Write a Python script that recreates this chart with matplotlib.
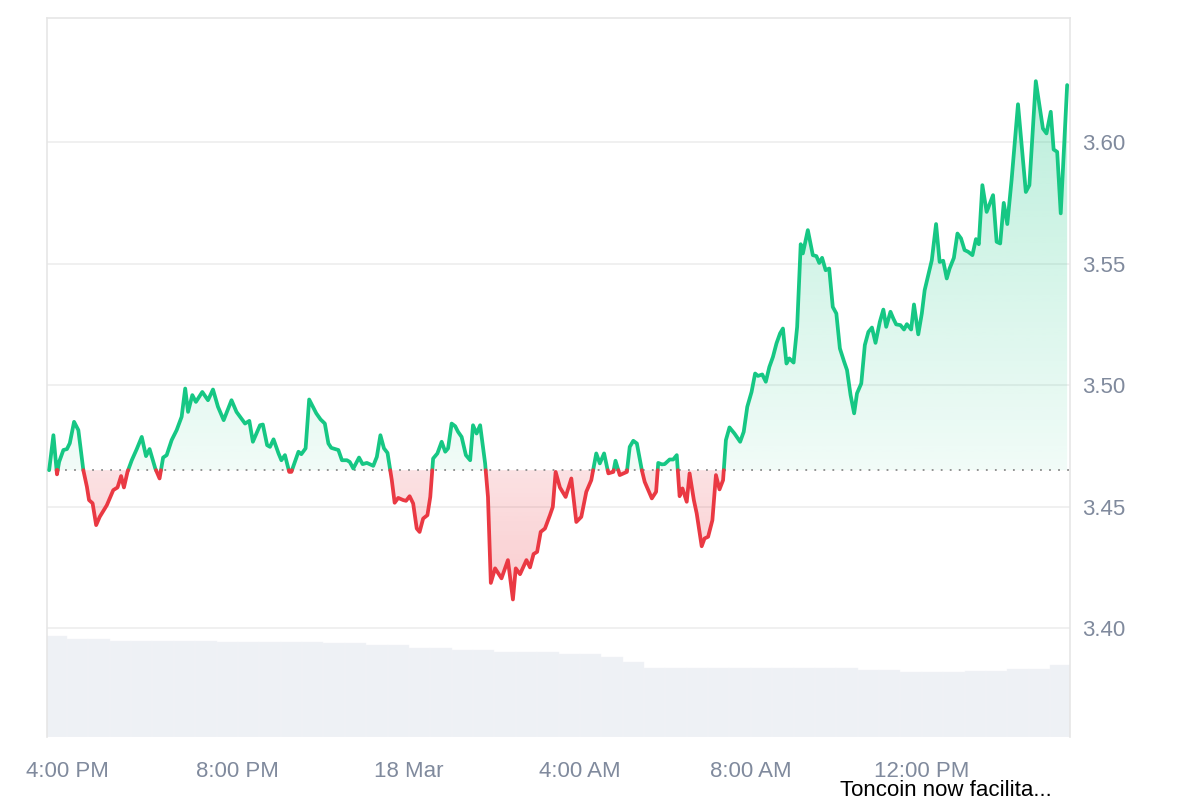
import matplotlib
matplotlib.use("Agg")
import matplotlib.pyplot as plt
import numpy as np
from matplotlib.path import Path

# minutes after 4:00 PM (17 Mar) and price in USD
minutes = [-25, -19, -14, -11, -5, 0, 4, 10, 16, 23,
           28, 31, 36, 41, 46, 56, 65, 71, 76, 80,
           85, 91, 98, 105, 111, 116, 124, 130, 135, 140,
           147, 154, 161, 166, 170, 176, 181, 190, 198, 205,
           212, 220, 231, 238, 250, 256, 261, 271, 275, 281,
           285, 290, 297, 301, 306, 312, 315, 325, 329, 335,
           340, 350, 356, 362, 367, 371, 381, 386, 393, 397,
           402, 410, 415, 421, 430, 435, 440, 445, 450,
           456, 460, 465, 472, 476, 481, 486, 491, 495, 500,
           506, 510, 514, 520, 526, 531, 535, 540, 545, 549,
           554, 560, 566, 570, 575, 580, 587, 591, 595, 601,
           610, 619, 626, 630, 636, 645, 650, 655, 660, 665,
           671, 678, 682, 686, 692,
           700, 708, 715, 722, 729, 736, 743, 748, 754, 760,
           767, 770, 776, 786, 790, 795, 800, 807, 811, 821,
           827, 830, 835, 839, 846, 851, 856, 860, 864, 870,
           874, 880, 884, 891, 895, 900, 906, 911, 916, 921,
           925, 930, 937, 945, 950, 955, 961, 966, 970, 976,
           981, 986, 991, 996, 1001, 1005, 1010, 1014, 1020, 1025,
           1030, 1033, 1040, 1047, 1052, 1056, 1060, 1065, 1070, 1075,
           1080, 1085, 1091, 1095, 1100, 1105, 1109, 1115, 1120, 1125,
           1130, 1135, 1141, 1146, 1150, 1156, 1160, 1164, 1170, 1175,
           1179, 1185,
           1189, 1195, 1200, 1204, 1209, 1214, 1220, 1225, 1230, 1235,
           1239, 1245, 1250, 1255, 1260, 1265, 1271, 1276, 1280, 1285,
           1291, 1300, 1305, 1310, 1315, 1320, 1326, 1335, 1346, 1351,
           1360, 1370, 1375, 1381, 1385, 1390, 1395, 1404]

price = [3.4650, 3.4794, 3.4633, 3.4684, 3.4733, 3.4737, 3.4761, 3.4849, 3.4815, 3.4650,
         3.4582, 3.4527, 3.4514, 3.4424, 3.4458, 3.4506, 3.4568, 3.4579, 3.4626, 3.4579,
         3.4643, 3.4691, 3.4737, 3.4787, 3.4708, 3.4737, 3.4657, 3.4616, 3.4702, 3.4712,
         3.4774, 3.4815, 3.4870, 3.4986, 3.4890, 3.4959, 3.4931, 3.4972, 3.4938, 3.4982,
         3.4911, 3.4856, 3.4938, 3.4890, 3.4842, 3.4853, 3.4767, 3.4835, 3.4838, 3.4753,
         3.4746, 3.4777, 3.4719, 3.4691, 3.4712, 3.4643, 3.4643, 3.4726, 3.4716, 3.4740,
         3.4941, 3.4884, 3.4859, 3.4842, 3.4760, 3.4742, 3.4733, 3.4691, 3.4691, 3.4684,
         3.4657, 3.4702, 3.4675, 3.4680, 3.4668, 3.4705, 3.4794, 3.4740, 3.4721,
         3.4609, 3.4516, 3.4536, 3.4527, 3.4524, 3.4543, 3.4513, 3.4410, 3.4396, 3.4451,
         3.4465, 3.4540, 3.4698, 3.4719, 3.4767, 3.4726, 3.4740, 3.4842, 3.4831, 3.4808,
         3.4787, 3.4712, 3.4691, 3.4835, 3.4801, 3.4835, 3.4678, 3.4540, 3.4186, 3.4246,
         3.4205, 3.4280, 3.4118, 3.4246, 3.4222, 3.4280, 3.4250, 3.4305, 3.4314, 3.4396,
         3.4410, 3.4465, 3.4499, 3.4643, 3.4579,
         3.4540, 3.4616, 3.4437, 3.4458, 3.4561, 3.4609, 3.4719, 3.4678, 3.4719, 3.4637,
         3.4643, 3.4689, 3.4630, 3.4643, 3.4746, 3.4771, 3.4760, 3.4650, 3.4602, 3.4534,
         3.4561, 3.4680, 3.4674, 3.4675, 3.4694, 3.4694, 3.4712, 3.4543, 3.4575, 3.4520,
         3.4637, 3.4527, 3.4472, 3.4337, 3.4369, 3.4376, 3.4444, 3.4630, 3.4571, 3.4609,
         3.4774, 3.4826, 3.4801, 3.4767, 3.4808, 3.4911, 3.4972, 3.5048, 3.5038, 3.5044,
         3.5014, 3.5075, 3.5116, 3.5172, 3.5213, 3.5233, 3.5089, 3.5110, 3.5093, 3.5240,
         3.5580, 3.5542, 3.5638, 3.5535, 3.5531, 3.5503, 3.5524, 3.5473, 3.5480, 3.5322,
         3.5295, 3.5151, 3.5096, 3.5062, 3.4959, 3.4884, 3.4966, 3.5007, 3.5165, 3.5219,
         3.5237, 3.5174, 3.5260, 3.5311, 3.5240, 3.5302, 3.5274, 3.5250, 3.5247, 3.5229,
         3.5251, 3.5229,
         3.5332, 3.5209, 3.5295, 3.5391, 3.5453, 3.5514, 3.5663, 3.5507, 3.5512, 3.5439,
         3.5480, 3.5524, 3.5624, 3.5604, 3.5556, 3.5549, 3.5535, 3.5601, 3.5580, 3.5823,
         3.5713, 3.5782, 3.5590, 3.5583, 3.5750, 3.5663, 3.5844, 3.6156, 3.5795, 3.5823,
         3.6251, 3.6056, 3.6036, 3.6125, 3.5970, 3.5960, 3.5707, 3.6235]

# volume, 30 minute buckets (centre minute), millions USD
vol_minutes = list(range(-15, 1400, 30))
volume = [202, 196, 196, 192, 192, 192, 192, 192, 190, 190,
          190, 190, 190, 188, 188, 184, 184, 178, 178, 174,
          174, 170, 170, 170, 166, 166, 160, 150, 138, 138,
          138, 138, 138, 138, 138, 138, 138, 138, 134, 134,
          130, 130, 130, 132, 132, 136, 136, 144]

tick_minutes = [0, 240, 480, 720, 960, 1200]
tick_labels = ["4:00 PM", "8:00 PM", "18 Mar", "4:00 AM", "8:00 AM", "12:00 PM"]
price_ticks = [3.40, 3.45, 3.50, 3.55, 3.60]
headline = "Toncoin now facilita..."

GREEN = "#16c784"
RED = "#ea3943"
GREY_TXT = "#808a9d"

plt.rcParams['font.family'] = ['Liberation Sans', 'DejaVu Sans']


def split_at_base(x, y, base):
    xs, ys = [x[0]], [y[0]]
    for i in range(1, len(x)):
        y0, y1 = y[i - 1], y[i]
        if (y0 - base) * (y1 - base) < 0:
            t = (base - y0) / (y1 - y0)
            xs.append(x[i - 1] + t * (x[i] - x[i - 1]))
            ys.append(base)
        xs.append(x[i])
        ys.append(y[i])
    return np.array(xs, float), np.array(ys, float)


def gradient_fill(ax, x, y, base, where, color, a_base, a_far, y_far, xlim, ylim):
    coll = ax.fill_between(x, y, base, where=where, interpolate=True,
                           facecolor='none', edgecolor='none')
    paths = coll.get_paths()
    if not paths:
        return
    clip = Path.make_compound_path(*paths)
    yy = np.linspace(ylim[0], ylim[1], 400)
    frac = np.clip((yy - base) / (y_far - base), 0, 1)
    alpha = a_base + (a_far - a_base) * frac
    rgba = np.zeros((400, 1, 4))
    rgba[..., :3] = matplotlib.colors.to_rgb(color)
    rgba[:, 0, 3] = alpha
    im = ax.imshow(rgba, extent=[xlim[0], xlim[1], ylim[0], ylim[1]],
                   origin='lower', aspect='auto', zorder=1,
                   interpolation='bilinear')
    im.set_clip_path(clip, transform=ax.transData)


fig = plt.figure(figsize=(12, 8), dpi=100)
rect = [47 / 1200, 1 - 737 / 800, 1023 / 1200, 719 / 800]
xlim = (-28, 1408)
ylim = (3.3552, 3.6511)

ax_vol = fig.add_axes(rect)
ax_vol.bar(vol_minutes, volume, width=30, color="#eef1f5",
           edgecolor="#f3f5f8", linewidth=0.3)
ax_vol.set_xlim(xlim)
ax_vol.set_ylim(0, 1438)
ax_vol.set_axis_off()

ax = fig.add_axes(rect)
ax.patch.set_alpha(0)

base = price[0]
x, y = split_at_base(minutes, price, base)

gradient_fill(ax, x, y, base, y >= base, GREEN, 0.06, 0.30, 3.63, xlim, ylim)
gradient_fill(ax, x, y, base, y <= base, RED, 0.15, 0.26, 3.41, xlim, ylim)

ax.axhline(base, color="#8a8a8a", lw=1.3, ls=(0, (1, 4)), zorder=2)

up = np.where(y >= base, y, np.nan)
down = np.where(y <= base, y, np.nan)
ax.plot(x, up, color=GREEN, lw=2.7, solid_joinstyle='round',
        solid_capstyle='round', zorder=3)
ax.plot(x, down, color=RED, lw=2.7, solid_joinstyle='round',
        solid_capstyle='round', zorder=3)

ax.set_xlim(xlim)
ax.set_ylim(ylim)
ax.set_yticks(price_ticks)
ax.set_yticklabels(["{:.2f}".format(v) for v in price_ticks])
ax.yaxis.tick_right()
ax.set_xticks(tick_minutes)
ax.set_xticklabels(tick_labels)
ax.tick_params(axis='y', length=0, pad=9, labelsize=16, labelcolor=GREY_TXT)
ax.tick_params(axis='x', length=0, pad=17, labelsize=16, labelcolor=GREY_TXT)
ax.grid(axis='y', color="#eeeeee", lw=1.2)
ax.set_axisbelow(True)
for side in ('top', 'left', 'right'):
    ax.spines[side].set_color("#e6e6e6")
    ax.spines[side].set_linewidth(1.2)
ax.spines['bottom'].set_visible(False)

fig.text(840 / 1200, 1 - 791 / 800, headline, fontsize=16,
         color="black", va='center', ha='left')

fig.savefig("out.png", dpi=100)
